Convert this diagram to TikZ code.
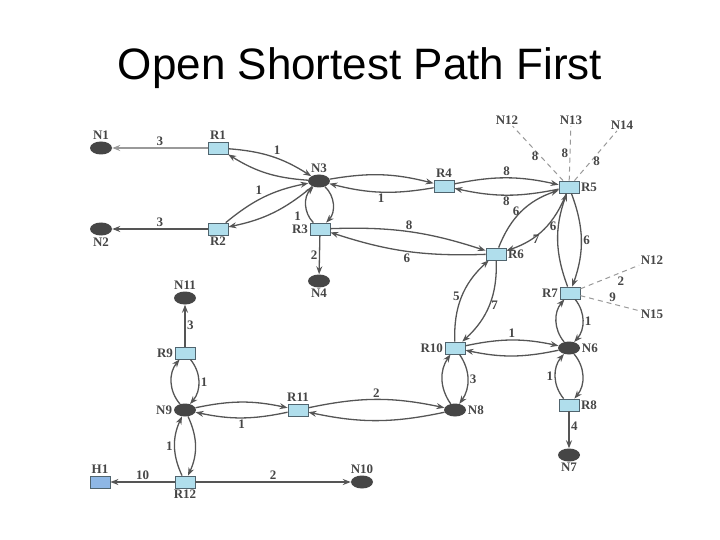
\documentclass[tikz,border=0pt]{standalone}
\usepackage{fontspec}
\setmainfont{Liberation Serif}
\newfontfamily\titlefont{Liberation Sans}
\usetikzlibrary{arrows.meta,shapes.geometric}
\definecolor{rfill}{RGB}{176,222,236}
\definecolor{rdraw}{RGB}{80,100,110}
\definecolor{ndark}{RGB}{70,70,70}
\definecolor{edge}{RGB}{85,85,85}
\begin{document}
\begin{tikzpicture}[x=1pt,y=-1pt,
  rt/.style={draw=rdraw,fill=rfill,line width=0.8pt,minimum width=20pt,minimum height=12pt,inner sep=0pt},
  nt/.style={ellipse,fill=ndark,minimum width=22pt,minimum height=13pt,inner sep=0pt},
  lb/.style={font=\bfseries\fontsize{13}{13}\selectfont,text=ndark,inner sep=1.5pt},
  arr/.style={draw=edge,line width=1.3pt,-{Stealth[length=8pt,width=6pt]}},
  dsh/.style={draw=gray!80,line width=1pt,dashed,dash pattern=on 5pt off 4pt},
  bl/.style={bend left=#1}, bl/.default=14,
  every label/.style={lb}]
\useasboundingbox (0,0) rectangle (720,540);
\node[font=\titlefont\fontsize{44}{48}\selectfont] (title) at (360,68) {Open Shortest Path First};
% nodes
\node[nt,label={above:N1}] (N1) at (101,148) {};
\node[rt,label={above:R1}] (R1) at (218,148) {};
\node[nt,label={above:N3}] (N3) at (319,181) {};
\node[nt,label={below:N2}] (N2) at (101,229) {};
\node[rt,label={below:R2}] (R2) at (218,229) {};
\node[rt,label={left:R3}] (R3) at (320,229) {};
\node[nt,label={below:N4}] (N4) at (319,281) {};
\node[rt,label={above:R4}] (R4) at (444,186) {};
\node[rt,label={right:R5}] (R5) at (569,187) {};
\node[rt,label={right:R6}] (R6) at (496,254) {};
\node[rt,label={left:R7}] (R7) at (570,293) {};
\node[nt,label={right:N6}] (N6) at (569,348) {};
\node[rt,label={left:R10}] (R10) at (455,348) {};
\node[rt,label={left:R9}] (R9) at (185,353) {};
\node[nt,label={above:N11}] (N11) at (185,298) {};
\node[nt,label={left:N9}] (N9) at (185,410) {};
\node[rt,label={above:R11}] (R11) at (298,410) {};
\node[nt,label={right:N8}] (N8) at (455,410) {};
\node[rt,label={right:R8}] (R8) at (569,405) {};
\node[nt,label={below:N7}] (N7) at (569,455) {};
\node[rt,label={below:R12}] (R12) at (185,482) {};
\node[rt,fill=cyan!60!blue!45,label={above:H1}] (H1) at (100,482) {};
\node[nt,label={above:N10}] (N10) at (362,482) {};
\node[lb] (N12a) at (507,120) {N12};
\node[lb] (N13) at (571,120) {N13};
\node[lb] (N14) at (622,125) {N14};
\node[lb] (N12b) at (652,260) {N12};
\node[lb] (N15) at (652,314) {N15};
% single edges
\draw[arr,draw=gray!80] (R1) -- node[lb,above]{3} (N1);
\draw[arr] (R2) -- node[lb,above]{3} (N2);
\draw[arr] (R3) -- node[lb,left]{2} (N4);
\draw[arr] (R8) -- node[lb,right,pos=0.4]{4} (N7);
\draw[arr] (R9) -- node[lb,right]{3} (N11);
\draw[arr] (R12) -- node[lb,above]{10} (H1);
\draw[arr] (R12) -- node[lb,above]{2} (N10);
% pairs
\draw[arr] (R1) to[bl] node[lb,above right]{1} (N3);
\draw[arr] (N3) to[bl] (R1);
\draw[arr] (R2) to[bl] node[lb,above left]{1} (N3);
\draw[arr] (N3) to[bl] (R2);
\draw[arr] (N3) to[bl=45] (R3);
\draw[arr] (R3) to[bl=45] node[lb,pos=0.2,xshift=-11pt]{1} (N3);
\draw[arr] (N3) to[bl=12] (R4);
\draw[arr] (R4) to[bl=12] node[lb,below]{1} (N3);
\draw[arr] (R4) to[bl=12] node[lb,above]{8} (R5);
\draw[arr] (R5) to[bl=12] node[lb,below]{8} (R4);
\draw[arr] (R6) to[bl=25] node[lb,left]{6} (R5);
\draw[arr] (R5) to[bl=25] node[lb,right,pos=0.7]{7} (R6);
\draw[arr] (R3) to[bl=10] node[lb,above]{8} (R6);
\draw[arr] (R6) to[bl=10] node[lb,below]{6} (R3);
\draw[arr] (R5) to[bl=20] node[lb,right]{6} (R7);
\draw[arr] (R7) to[bl=20] node[lb,left,pos=0.65]{6} (R5);
\draw[arr] (R10) to[bl=25] node[lb,left]{5} (R6);
\draw[arr] (R6) to[bl=25] node[lb,right]{7} (R10);
\draw[arr] (R7) to[bl=40] node[lb,right]{1} (N6);
\draw[arr] (N6) to[bl=40] (R7);
\draw[arr] (R10) to[bl=12] node[lb,above]{1} (N6);
\draw[arr] (N6) to[bl=12] (R10);
\draw[arr] (R10) to[bl=35] node[lb,right]{3} (N8);
\draw[arr] (N8) to[bl=35] (R10);
\draw[arr] (N6) to[bl=40] (R8);
\draw[arr] (R8) to[bl=40] node[lb,left]{1} (N6);
\draw[arr] (N9) to[bl=40] (R9);
\draw[arr] (R9) to[bl=40] node[lb,right]{1} (N9);
\draw[arr] (N9) to[bl=12] (R11);
\draw[arr] (R11) to[bl=12] node[lb,below]{1} (N9);
\draw[arr] (R11) to[bl=12] node[lb,above]{2} (N8);
\draw[arr] (N8) to[bl=12] (R11);
\draw[arr] (N9) to[bl=25] (R12);
\draw[arr] (R12) to[bl=25] node[lb,left]{1} (N9);
% dashed
\draw[dsh] (R5) -- node[lb,left,pos=0.45]{8} (N12a);
\draw[dsh] (R5) -- node[lb,left,pos=0.5]{8} (N13);
\draw[dsh] (R5) -- node[lb,right,pos=0.4]{8} (N14);
\draw[dsh] (R7) -- node[lb,below right,pos=0.6]{2} (N12b);
\draw[dsh] (R7) -- node[lb,above,pos=0.55]{9} (N15);
\end{tikzpicture}
\end{document}
